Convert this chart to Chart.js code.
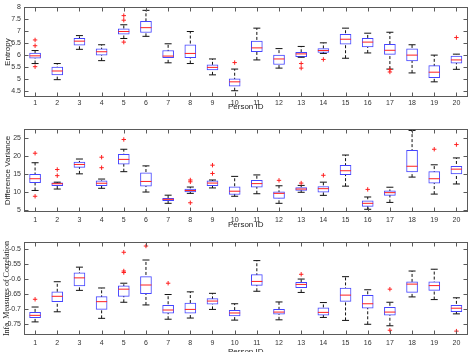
<!DOCTYPE html>
<html><head><meta charset="utf-8">
<script src="https://cdn.jsdelivr.net/npm/chart.js@4.4.1/dist/chart.umd.min.js"></script>
<style>
html,body{margin:0;padding:0;background:#fff;overflow:hidden;width:474px;height:352px;}
.c{position:absolute;left:0;width:474px;}
</style></head><body>
<div class="c" style="top:0;height:112px"><canvas id="c1" width="474" height="112"></canvas></div>
<div class="c" style="top:117px;height:113px"><canvas id="c2" width="474" height="113"></canvas></div>
<div class="c" style="top:232px;height:125px"><canvas id="c3" width="474" height="125"></canvas></div>
<script>
const persons = ['1','2','3','4','5','6','7','8','9','10','11','12','13','14','15','16','17','18','19','20'];

// Entropy
const entMin = [5.66,4.99,6.25,5.78,6.70,6.79,5.69,5.66,5.19,4.53,5.81,5.47,5.92,6.08,5.88,6.10,5.43,5.27,4.90,5.42];
const entQ1  = [5.88,5.19,6.42,6.01,6.88,6.95,5.90,5.90,5.39,4.72,6.15,5.62,5.94,6.12,6.46,6.35,6.04,5.77,5.07,5.67];
const entMed = [5.98,5.35,6.59,6.15,6.99,7.15,5.97,6.08,5.50,4.90,6.31,5.85,6.06,6.20,6.67,6.55,6.21,6.01,5.30,5.81];
const entQ3  = [6.09,5.51,6.71,6.27,7.10,7.41,6.20,6.44,5.61,5.02,6.59,6.01,6.13,6.28,6.87,6.71,6.46,6.27,5.57,5.97];
const entMax = [6.20,5.66,6.82,6.44,7.27,7.87,6.48,6.99,5.85,5.43,7.13,6.28,6.37,6.52,7.13,6.92,6.96,6.44,6.01,6.05];
const entOut = [[1,6.64],[1,6.40],[1,5.53],[5,7.65],[5,7.46],[5,6.55],[10,5.70],[13,5.66],[13,5.47],[14,5.83],[17,5.41],[17,5.31],[20,6.74]];
const entTicks = [4.5,5,5.5,6,6.5,7,7.5,8];
const entTickLabels = ['4.5','5','5.5','6','6.5','7','7.5','8'];

// Difference Variance
const dvMin = [10.4,10.8,15.0,11.0,15.6,9.97,6.85,9.6,11.1,8.8,9.5,6.85,9.9,9.05,11.6,5.2,7.1,14.1,9.4,12.2];
const dvQ1  = [12.54,11.71,16.8,11.7,17.7,11.6,7.6,9.97,11.7,9.3,11.3,8.2,10.4,9.9,14.75,6.0,9.05,15.5,12.4,14.95];
const dvMed = [13.65,12.27,17.6,12.4,19.0,12.9,7.95,10.4,12.45,10.2,12.3,9.6,10.8,10.9,15.86,6.85,9.8,17.1,13.65,16.3];
const dvQ3  = [14.86,12.54,18.26,13.1,20.4,15.3,8.2,10.8,13.1,11.4,13.2,10.06,11.2,11.5,17.35,7.57,10.3,21.5,15.6,17.1];
const dvMax = [18.07,12.7,19.1,13.56,21.8,17.2,9.1,11.35,13.3,14.3,14.7,11.7,11.8,12.7,20.2,8.6,11.3,27.0,17.5,19.4];
const dvOut = [[1,20.7],[1,8.8],[2,16.2],[2,14.5],[4,19.6],[4,16.7],[5,24.5],[5,28.9],[8,13.3],[8,12.8],[8,7.0],[9,17.4],[9,15.1],[12,13.2],[13,12.45],[14,14.6],[16,10.7],[19,21.8],[20,23.1]];
const dvTicks = [5,10,15,20,25];
const dvTickLabels = ['5','10','15','20','25'];

// Info. Measures of Correlation
const imcMin = [-0.744,-0.710,-0.638,-0.732,-0.678,-0.687,-0.735,-0.731,-0.702,-0.738,-0.641,-0.737,-0.645,-0.729,-0.739,-0.752,-0.757,-0.660,-0.669,-0.717];
const imcQ1  = [-0.730,-0.676,-0.623,-0.702,-0.658,-0.649,-0.715,-0.715,-0.684,-0.724,-0.621,-0.718,-0.629,-0.721,-0.675,-0.698,-0.721,-0.645,-0.638,-0.710];
const imcMed = [-0.722,-0.658,-0.596,-0.676,-0.634,-0.620,-0.704,-0.702,-0.674,-0.714,-0.608,-0.711,-0.618,-0.712,-0.654,-0.683,-0.711,-0.617,-0.622,-0.698];
const imcQ3  = [-0.712,-0.643,-0.579,-0.659,-0.623,-0.592,-0.688,-0.681,-0.666,-0.705,-0.585,-0.702,-0.611,-0.697,-0.630,-0.655,-0.695,-0.609,-0.609,-0.688];
const imcMax = [-0.694,-0.609,-0.560,-0.630,-0.614,-0.536,-0.652,-0.643,-0.648,-0.683,-0.538,-0.677,-0.600,-0.679,-0.592,-0.636,-0.678,-0.573,-0.567,-0.663];
const imcOut = [[1,-0.668],[5,-0.510],[5,-0.573],[5,-0.578],[6,-0.489],[7,-0.614],[13,-0.584],[17,-0.634],[17,-0.772],[20,-0.775]];
const imcTicks = [-0.75,-0.7,-0.65,-0.6,-0.55,-0.5];
const imcTickLabels = ['-0.75','-0.7','-0.65','-0.6','-0.55','-0.5'];

const SANS = "'Liberation Sans', Arial, sans-serif";
const SERIF = "'Liberation Serif', 'Times New Roman', serif";
const BLUE = '#4545ff', RED = '#ff2020', FRAME = '#5a5a5a';

const framePlugin = {
  id: 'frame',
  afterDatasetsDraw(chart) {
    const {ctx, chartArea: a, scales: {x, y}} = chart;
    ctx.save();
    ctx.strokeStyle = FRAME; ctx.lineWidth = 1;
    const L = Math.round(a.left)+0.5, R = Math.round(a.right)-0.5, T = Math.round(a.top)+0.5, B = Math.round(a.bottom)-0.5;
    ctx.strokeRect(L, T, R-L, B-T);
    ctx.beginPath();
    x.ticks.forEach((t,i) => { const px = Math.round(x.getPixelForTick(i))+0.5; ctx.moveTo(px,B); ctx.lineTo(px,B-4); ctx.moveTo(px,T); ctx.lineTo(px,T+4); });
    y.ticks.forEach((t,i) => { const py = Math.round(y.getPixelForTick(i))+0.5; ctx.moveTo(L,py); ctx.lineTo(L+4,py); ctx.moveTo(R,py); ctx.lineTo(R-4,py); });
    ctx.stroke();
    ctx.restore();
  }
};

function makeBoxChart(id, cfg) {
  const datasets = [];
  persons.forEach((p, i) => {
    datasets.push({type:'line', data:[{x:p, y:cfg.min[i]}, {x:p, y:cfg.max[i]}], borderColor:'#111', borderWidth:1, borderDash:[3,2], pointRadius:0, order:6});
  });
  datasets.push({type:'bar', data: persons.map((p,i) => [cfg.q1[i], cfg.q3[i]]), backgroundColor:'#fff', borderColor:BLUE, borderWidth:1, borderSkipped:false, barThickness:11, order:3});
  datasets.push({type:'line', data: cfg.max, showLine:false, pointStyle:'line', pointRadius:3.5, pointBorderColor:'#111', pointBorderWidth:1, order:2});
  datasets.push({type:'line', data: cfg.min, showLine:false, pointStyle:'line', pointRadius:3.5, pointBorderColor:'#111', pointBorderWidth:1, order:2});
  datasets.push({type:'line', data: cfg.med, showLine:false, pointStyle:'line', pointRadius:5.5, pointBorderColor:RED, pointBorderWidth:1, order:1});
  datasets.push({type:'line', data: cfg.out.map(([p,v]) => ({x:String(p), y:v})), showLine:false, pointStyle:'cross', pointRadius:2.2, pointBorderColor:RED, pointBorderWidth:1, clip:false, order:0});

  return new Chart(document.getElementById(id), {
    type:'bar',
    data:{labels: persons, datasets},
    options:{
      responsive:false, animation:false,
      layout:{padding:{left:0, right:3.5, top:cfg.top, bottom:0}},
      plugins:{legend:{display:false}, tooltip:{enabled:false}},
      scales:{
        x:{type:'category', offset:true,
           grid:{display:false, drawTicks:false}, border:{display:false},
           ticks:{font:{family:SANS, size:7}, color:'#333', padding:cfg.xpad, maxRotation:0, autoSkip:false},
           title:{display:true, text:'Person ID', font:{family:SANS, size:8}, color:'#222', padding:0},
           afterFit(s){ s.height = cfg.xh; }},
        y:{type:'linear', min:cfg.ymin, max:cfg.ymax,
           grid:{display:false, drawTicks:false}, border:{display:false},
           afterBuildTicks(s){ s.ticks = cfg.ticks.map(v => ({value:v})); },
           ticks:{font:{family:SANS, size:7}, color:'#333', padding:3, callback:(v,i) => cfg.tickLabels[i]},
           title:{display:true, text:cfg.ytitle, font:{family:cfg.yfont, size:cfg.ysize}, color:'#222', padding:{top:2.5}},
           afterFit(s){ s.width = 24; }}
      }
    },
    plugins:[framePlugin]
  });
}

makeBoxChart('c1', {min:entMin,q1:entQ1,med:entMed,q3:entQ3,max:entMax,out:entOut,ticks:entTicks,tickLabels:entTickLabels,
  ymin:4.27, ymax:8, top:4, xh:15, xpad:2, ytitle:'Entropy', yfont:SANS, ysize:8});
makeBoxChart('c2', {min:dvMin,q1:dvQ1,med:dvMed,q3:dvQ3,max:dvMax,out:dvOut,ticks:dvTicks,tickLabels:dvTickLabels,
  ymin:4.45, ymax:27.4, top:12, xh:18, xpad:4, ytitle:'Difference Variance', yfont:SANS, ysize:8});
makeBoxChart('c3', {min:imcMin,q1:imcQ1,med:imcMed,q3:imcQ3,max:imcMax,out:imcOut,ticks:imcTicks,tickLabels:imcTickLabels,
  ymin:-0.788, ymax:-0.4755, top:10, xh:22, xpad:4, ytitle:'Info. Measures of Correlation', yfont:SERIF, ysize:8});
</script>
</body></html>
